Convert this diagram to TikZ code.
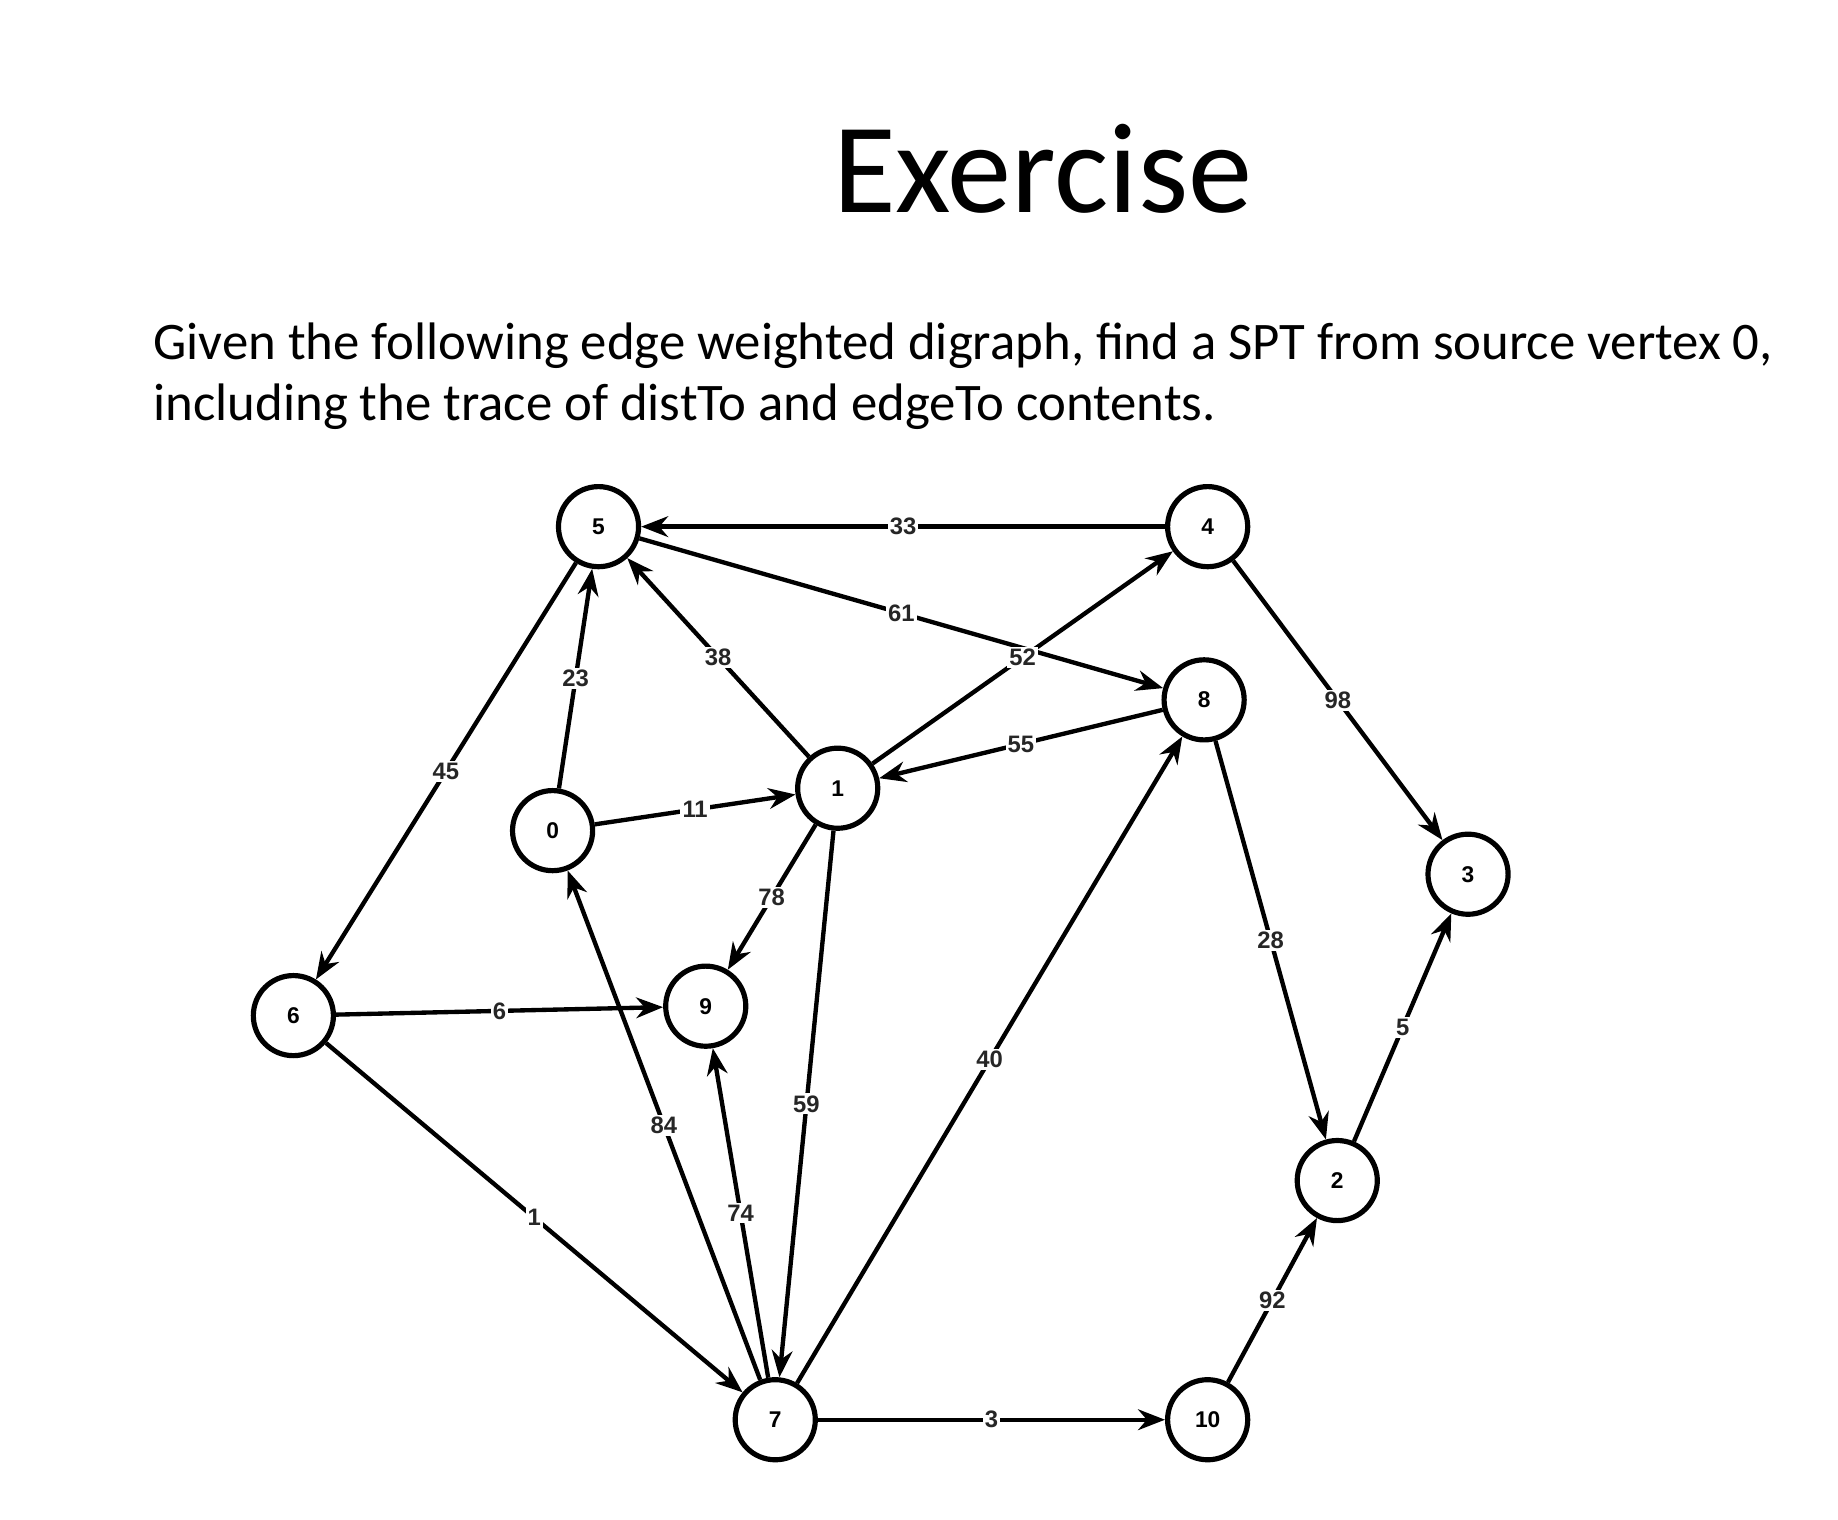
\documentclass[tikz,border=0pt]{standalone}
\usepackage{fontspec}
\setmainfont{Carlito}
\newfontfamily\arialf{Liberation Sans}
\usetikzlibrary{arrows.meta}
\begin{document}
\begin{tikzpicture}[x=0.02cm,y=-0.02cm,
  vtx/.style={circle,draw,line width=2.5pt,minimum size=1.36cm,inner sep=0pt,font=\arialf\bfseries\fontsize{11}{12}\selectfont},
  edge/.style={-{Stealth[length=13pt,width=10pt]},line width=2.1pt},
  wl/.style={fill=white,inner sep=1pt,font=\arialf\bfseries\fontsize{11.5}{12}\selectfont,text=black!85}]
\useasboundingbox (0,0) rectangle (1560,1290);
\node[anchor=base] (title) at (885,180) {\fontsize{62}{66}\selectfont Exercise};
\node[anchor=base west,inner sep=0pt] (l1) at (130,305) {\fontsize{25.5}{28}\selectfont Given the following edge weighted digraph, find a SPT from source vertex 0,};
\node[anchor=base west,inner sep=0pt] (l2) at (130,357) {\fontsize{25.5}{28}\selectfont including the trace of distTo and edgeTo contents.};
\node[vtx] (n5) at (508,447) {5};
\node[vtx] (n4) at (1025,447) {4};
\node[vtx] (n8) at (1022,594) {8};
\node[vtx] (n1) at (711,669) {1};
\node[vtx] (n0) at (469,705) {0};
\node[vtx] (n3) at (1246,742) {3};
\node[vtx] (n6) at (249,862) {6};
\node[vtx] (n9) at (599,854) {9};
\node[vtx] (n2) at (1135,1002) {2};
\node[vtx] (n7) at (658,1205) {7};
\node[vtx] (n10) at (1025,1205) {10};
\foreach \a/\b/\w in {4/5/33,5/8/61,1/4/52,8/1/55,0/5/23,1/5/38,5/6/45,4/3/98,0/1/11,1/9/78,8/2/28,2/3/5,6/9/6,7/0/84,7/9/74,1/7/59,7/8/40,6/7/1,10/2/92,7/10/3}
  \draw[edge] (n\a) -- node[wl] {\w} (n\b);
\end{tikzpicture}
\end{document}
